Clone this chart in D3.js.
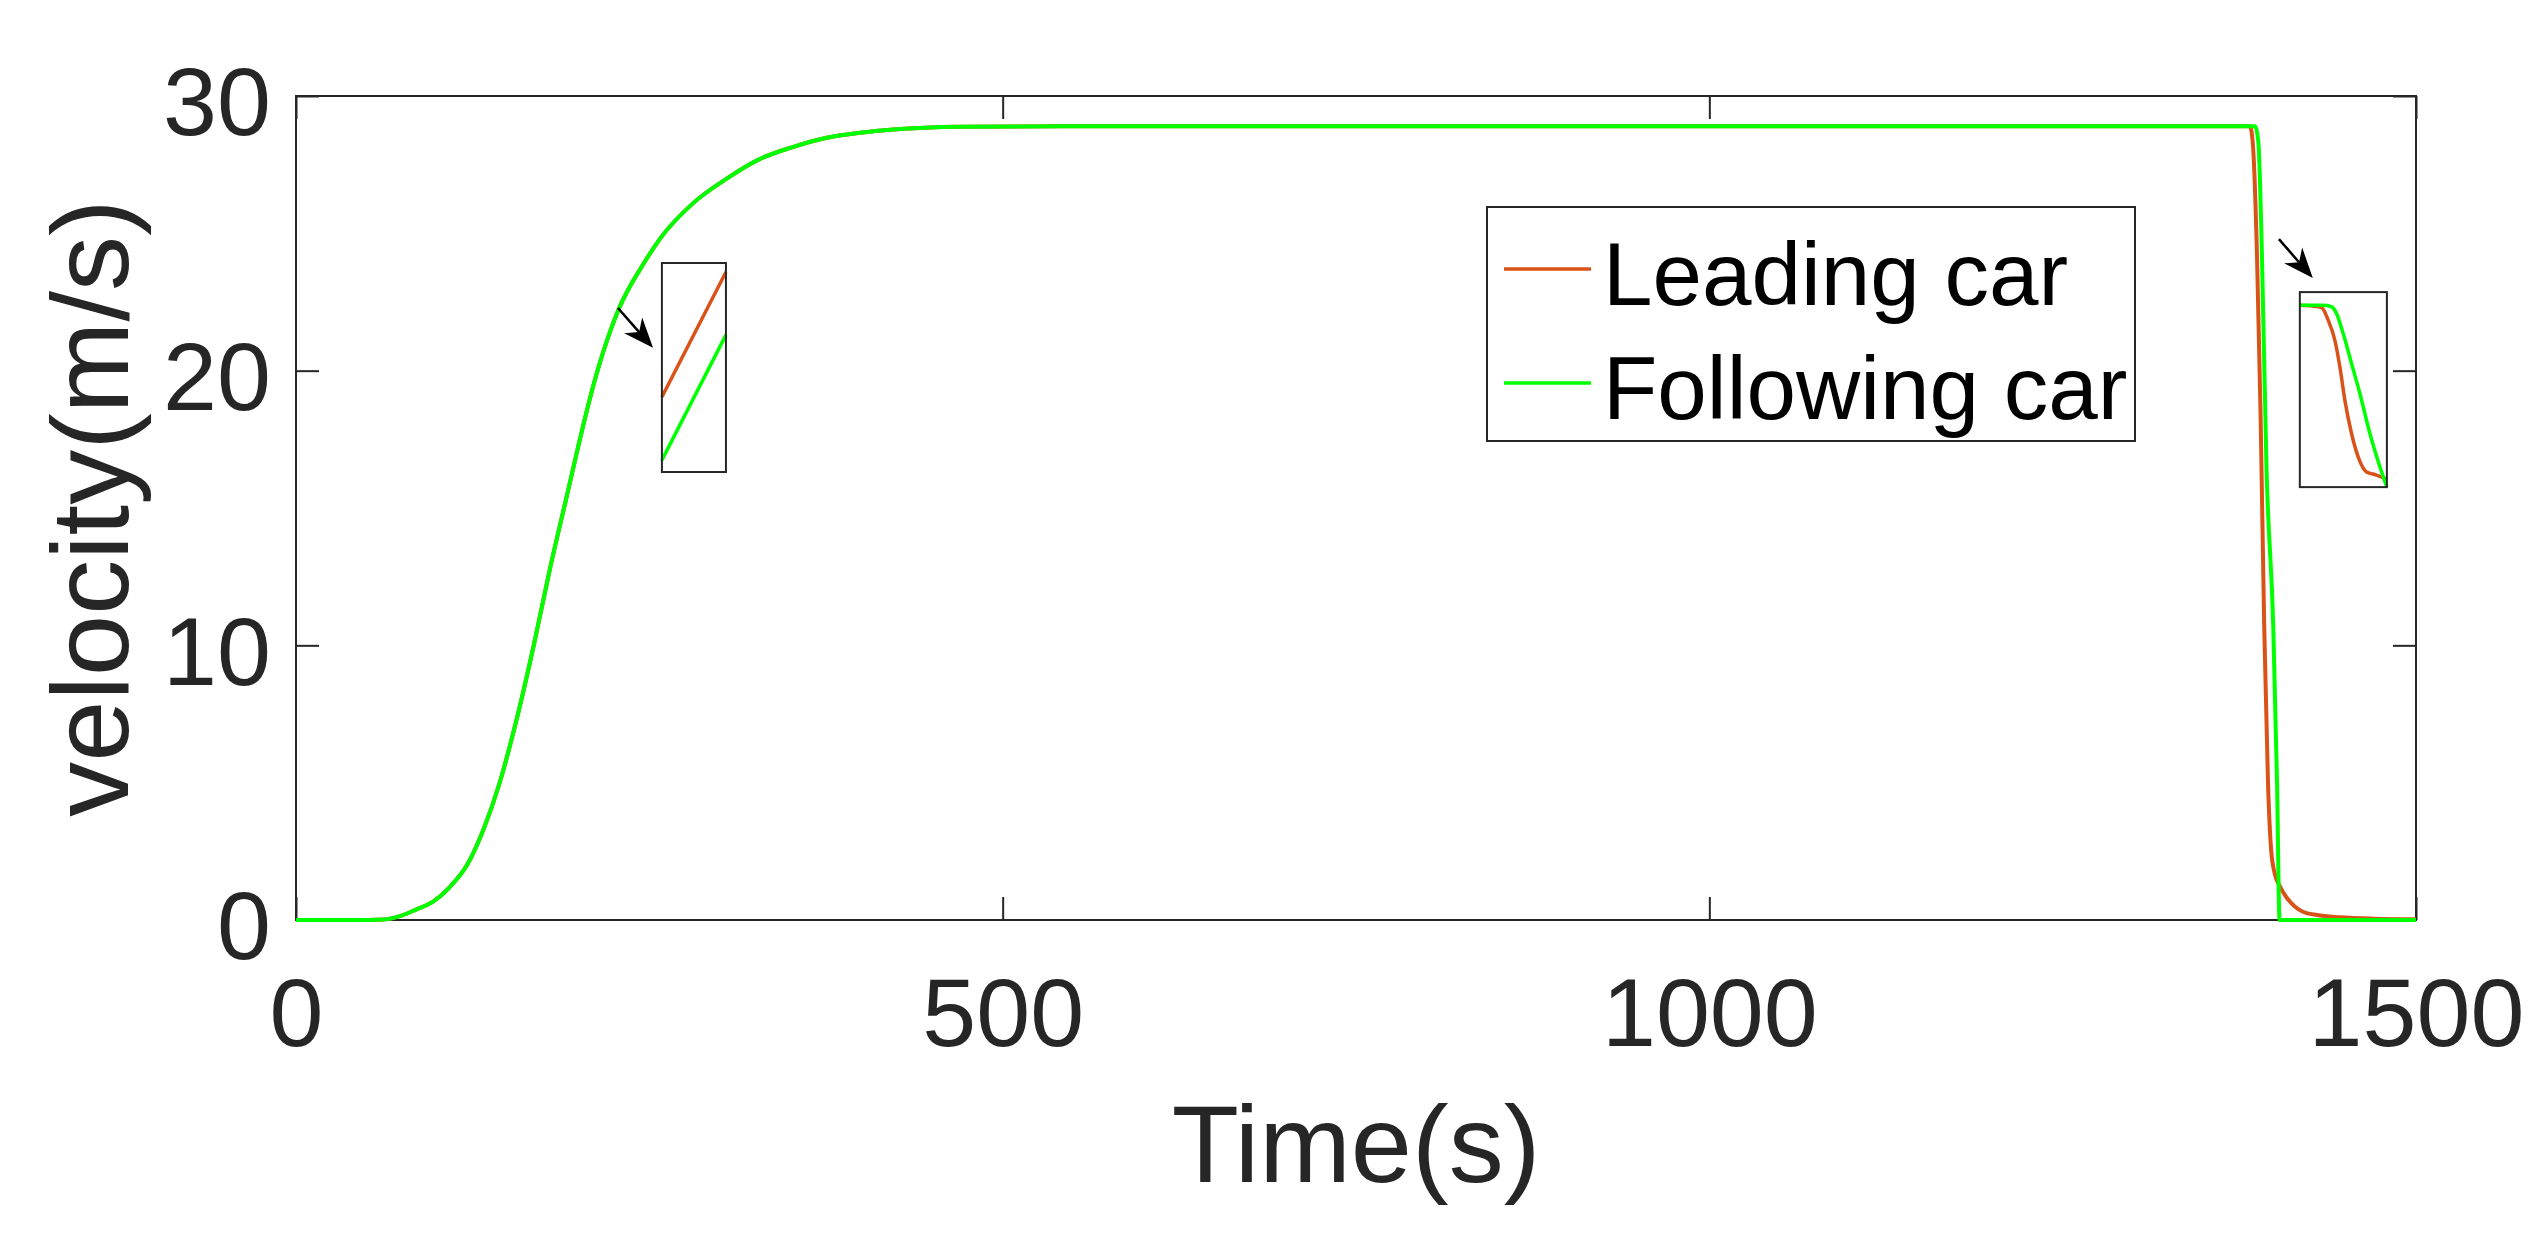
<!DOCTYPE html>
<html>
<head>
<meta charset="utf-8">
<script src="https://cdn.jsdelivr.net/npm/d3@7"></script>
<style>
  body { margin: 0; background: #fff; }
  svg { display: block; }
</style>
</head>
<body>
<div id="app"></div>
<script>
// velocity profile data
// acceleration phase: both cars overlap
const riseTime = [0, 40, 62, 74, 85, 97, 109, 121, 132.5, 144, 156, 168, 180, 191.5, 203, 208, 228, 246, 257.5, 281, 305, 328, 352, 375.5, 399, 422.6, 470, 540, 800, 1100];
const riseSpeed = [0, 0, 0.02, 0.15, 0.38, 0.67, 1.21, 2.0, 3.28, 4.98, 7.28, 9.95, 12.86, 15.41, 17.96, 19.0, 22.2, 23.9, 24.8, 26.1, 27.0, 27.7, 28.15, 28.48, 28.66, 28.78, 28.88, 28.9, 28.9, 28.9];

// braking phase
const leadStopTime = [1382.5, 1384.5, 1387.5, 1390, 1392.6, 1395.3, 1397.5, 1400, 1404, 1408.7, 1414, 1420, 1430, 1446, 1470, 1500];
const leadStopSpeed = [28.9, 28.3, 24.2, 18.5, 10.7, 4.95, 2.55, 1.7, 1.2, 0.8, 0.5, 0.3, 0.18, 0.1, 0.05, 0.03];
const followStopTime = [1386, 1388.5, 1391, 1394.2, 1399, 1401.7, 1403.5, 1500];
const followStopSpeed = [28.9, 28.3, 24.2, 16.5, 10.7, 4.95, 0, 0];

// zoomed-in insets (normalised inside each box)
const inset1X = [0, 1];
const inset1Lead = [0.359, 0.957];
const inset1Follow = [0.057, 0.656];
const inset2LeadX = [0, 0.153, 0.249, 0.326, 0.402, 0.46, 0.517, 0.594, 0.67, 0.766, 0.88, 0.976, 1];
const inset2LeadY = [0.932, 0.928, 0.921, 0.856, 0.754, 0.617, 0.446, 0.275, 0.155, 0.078, 0.062, 0.045, 0.04];
const inset2FollowX = [0, 0.268, 0.364, 0.421, 0.498, 0.594, 0.69, 0.805, 0.92, 1];
const inset2FollowY = [0.932, 0.932, 0.925, 0.891, 0.788, 0.634, 0.48, 0.275, 0.104, 0];

const xTicks = [0, 500, 1000, 1500];
const yTicks = [0, 10, 20, 30];
const seriesNames = ["Leading car", "Following car"];

const width = 2540;
const height = 1233;
const margin = { left: 296, right: 124, top: 96, bottom: 313 };
const ink = "#262626";
const colors = ["#D95319", "#00FF00"];
const font = "'Liberation Sans', Arial, Helvetica, sans-serif";

const lead = riseTime.map((t, i) => [t, riseSpeed[i]])
  .concat(leadStopTime.map((t, i) => [t, leadStopSpeed[i]]));
const follow = riseTime.map((t, i) => [t, riseSpeed[i]])
  .concat(followStopTime.map((t, i) => [t, followStopSpeed[i]]));

const x = d3.scaleLinear().domain([0, 1500]).range([margin.left, width - margin.right]);
const y = d3.scaleLinear().domain([0, 30]).range([height - margin.bottom, margin.top]);

const svg = d3.select("#app").append("svg").attr("width", width).attr("height", height);

// AXES (ticks point inwards, on all four sides)
function styleAxis(g) {
  g.select(".domain").remove();
  g.selectAll(".tick line").attr("stroke", ink).attr("stroke-width", 2);
  g.selectAll(".tick text")
    .attr("fill", ink)
    .style("font-family", font)
    .style("font-size", "97px");
}

svg.append("g")
  .attr("transform", `translate(0,${y(0)})`)
  .call(d3.axisBottom(x).tickValues(xTicks).tickSize(-23).tickPadding(57).tickFormat(d3.format("d")))
  .call(styleAxis);

svg.append("g")
  .attr("transform", `translate(0,${y(30)})`)
  .call(d3.axisTop(x).tickValues(xTicks).tickSize(-23).tickFormat(""))
  .call(styleAxis);

svg.append("g")
  .attr("transform", `translate(${x(0)},0)`)
  .call(d3.axisLeft(y).tickValues(yTicks).tickSize(-23).tickPadding(25).tickFormat(d3.format("d")))
  .call(styleAxis)
  .selectAll(".tick text").attr("dy", "0.4em");

svg.append("g")
  .attr("transform", `translate(${x(1500)},0)`)
  .call(d3.axisRight(y).tickValues(yTicks).tickSize(-23).tickFormat(""))
  .call(styleAxis);

svg.append("rect")
  .attr("x", x(0)).attr("y", y(30))
  .attr("width", x(1500) - x(0)).attr("height", y(0) - y(30))
  .attr("fill", "none").attr("stroke", ink).attr("stroke-width", 2);

// LABELS
svg.append("text")
  .attr("x", (x(0) + x(1500)) / 2).attr("y", 1182)
  .attr("text-anchor", "middle")
  .attr("fill", ink)
  .style("font-family", font).style("font-size", "110px")
  .text("Time(s)");

svg.append("text")
  .attr("transform", `translate(128,${(y(0) + y(30)) / 2}) rotate(-90)`)
  .attr("text-anchor", "middle")
  .attr("fill", ink)
  .style("font-family", font).style("font-size", "110px")
  .text("velocity(m/s)");

// MAIN CURVES
const line = d3.line().x(d => x(d[0])).y(d => y(d[1])).curve(d3.curveMonotoneX);
[lead, follow].forEach((data, i) => {
  svg.append("path")
    .datum(data)
    .attr("d", line)
    .attr("fill", "none")
    .attr("stroke", colors[i])
    .attr("stroke-width", 4)
    .attr("stroke-linejoin", "round");
});

// INSETS: box extents given in data units
const insets = [
  { t: [258.9, 304.2], v: [16.31, 23.92], lead: inset1X.map((d, i) => [d, inset1Lead[i]]), follow: inset1X.map((d, i) => [d, inset1Follow[i]]) },
  { t: [1417.8, 1479.4], v: [15.76, 22.86], lead: inset2LeadX.map((d, i) => [d, inset2LeadY[i]]), follow: inset2FollowX.map((d, i) => [d, inset2FollowY[i]]) },
];

insets.forEach(box => {
  const ix = d3.scaleLinear().domain([0, 1]).range([x(box.t[0]), x(box.t[1])]);
  const iy = d3.scaleLinear().domain([0, 1]).range([y(box.v[0]), y(box.v[1])]);
  const iline = d3.line().x(d => ix(d[0])).y(d => iy(d[1])).curve(d3.curveMonotoneX);

  [box.lead, box.follow].forEach((data, i) => {
    svg.append("path")
      .datum(data)
      .attr("d", iline)
      .attr("fill", "none")
      .attr("stroke", colors[i])
      .attr("stroke-width", 3.5);
  });

  svg.append("rect")
    .attr("x", ix(0)).attr("y", iy(1))
    .attr("width", ix(1) - ix(0)).attr("height", iy(0) - iy(1))
    .attr("fill", "none").attr("stroke", ink).attr("stroke-width", 2);
});

// ARROWS pointing at the insets (data units)
const arrows = [
  { from: [227.8, 22.28], to: [252.6, 20.83] },
  { from: [1403, 24.79], to: [1427, 23.37] },
];

arrows.forEach(a => {
  const x0 = x(a.from[0]), y0 = y(a.from[1]);
  const x1 = x(a.to[0]), y1 = y(a.to[1]);
  const len = Math.hypot(x1 - x0, y1 - y0);
  const ux = (x1 - x0) / len, uy = (y1 - y0) / len;
  const nx = -uy, ny = ux;
  const L = 30, w = 12;
  const bx = x1 - L * ux, by = y1 - L * uy;
  const mx = x1 - 0.7 * L * ux, my = y1 - 0.7 * L * uy;

  svg.append("line")
    .attr("x1", x0).attr("y1", y0).attr("x2", mx).attr("y2", my)
    .attr("stroke", "#000").attr("stroke-width", 2.5);

  svg.append("path")
    .attr("d", `M${x1},${y1}L${bx + w * nx},${by + w * ny}L${mx},${my}L${bx - w * nx},${by - w * ny}Z`)
    .attr("fill", "#000");
});

// LEGEND
const legend = svg.append("g").attr("transform", "translate(1487,207)");
legend.append("rect")
  .attr("width", 648).attr("height", 234)
  .attr("fill", "#fff").attr("stroke", ink).attr("stroke-width", 2);

seriesNames.forEach((name, i) => {
  const row = legend.append("g").attr("transform", `translate(0,${62 + i * 114})`);
  row.append("line")
    .attr("x1", 17).attr("x2", 104)
    .attr("stroke", colors[i]).attr("stroke-width", 3.5);
  row.append("text")
    .attr("x", 116).attr("y", 36)
    .attr("fill", "#000")
    .style("font-family", font).style("font-size", "89px")
    .text(name);
});
</script>
</body>
</html>
